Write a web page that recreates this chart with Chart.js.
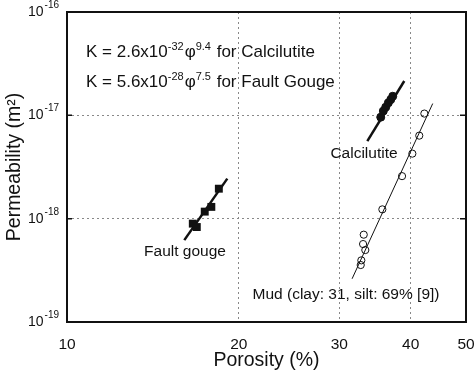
<!DOCTYPE html>
<html>
<head>
<meta charset="utf-8">
<script src="https://cdn.jsdelivr.net/npm/chart.js@4"></script>
<style>
  html, body { margin: 0; padding: 0; background: #fff; }
  #wrap { width: 474px; height: 370px; }
</style>
</head>
<body>
<div id="wrap"><canvas id="permChart" width="474" height="370"></canvas></div>
<script>
// values (porosity in %, permeability in m^2)
const calcPorosity = [35.45, 35.82, 36.17, 36.55, 36.91, 37.21];
const calcPerm = [9.6e-18, 1.10e-17, 1.20e-17, 1.32e-17, 1.42e-17, 1.53e-17];
const gougePorosity = [16.61, 16.88, 17.43, 17.90, 18.45];
const gougePerm = [8.95e-19, 8.3e-19, 1.17e-18, 1.30e-18, 1.95e-18];
const mudPorosity = [32.70, 32.78, 33.31, 33.01, 33.10, 35.68, 38.63, 40.27, 41.41, 42.27];
const mudPerm = [3.56e-19, 3.95e-19, 4.97e-19, 5.68e-19, 7.0e-19, 1.23e-18, 2.58e-18, 4.26e-18, 6.36e-18, 1.04e-17];

// fitted line end points
const calcFitPorosity = [33.58, 38.98];
const calcFitPerm = [5.64e-18, 2.15e-17];
const gougeFitPorosity = [16.05, 19.09];
const gougeFitPerm = [6.2e-19, 2.44e-18];
const mudFitPorosity = [31.58, 43.72];
const mudFitPerm = [2.62e-19, 1.30e-17];

// tick values
const xTicks = [10, 20, 30, 40, 50];
const yExponents = [-19, -18, -17, -16];

const FONT = "'Liberation Sans', Arial, sans-serif";
const INK = '#111';

const toPts = (xs, ys) => xs.map((x, i) => ({ x: x, y: ys[i] }));

// rich text lines: [text, isSuperscript]
const equations = [
  { x: 86, y: 57, parts: [['K = 2.6x10', false], ['-32', true], ['\u03c6', false], ['9.4', true], [' for Calcilutite', false]] },
  { x: 86, y: 87, parts: [['K = 5.6x10', false], ['-28', true], ['\u03c6', false], ['7.5', true], [' for Fault Gouge', false]] }
];
const labels = [
  { text: 'Calcilutite', x: 364, y: 154 },
  { text: 'Fault gouge', x: 185, y: 252 },
  { text: 'Mud (clay: 31, silt: 69% [9])', x: 346, y: 295 }
];

const decorPlugin = {
  id: 'decor',
  afterDatasetsDraw(chart) {
    const ctx = chart.ctx;
    const a = chart.chartArea;
    const ys = chart.scales.y;
    ctx.save();
    // frame
    ctx.strokeStyle = INK;
    ctx.lineWidth = 2;
    ctx.strokeRect(a.left, a.top, a.right - a.left, a.bottom - a.top);
    // inward ticks left/right
    ctx.lineWidth = 1.5;
    [-18, -17].forEach(e => {
      const py = ys.getPixelForValue(Math.pow(10, e));
      ctx.beginPath();
      ctx.moveTo(a.left, py); ctx.lineTo(a.left + 5, py);
      ctx.moveTo(a.right, py); ctx.lineTo(a.right - 6, py);
      ctx.stroke();
    });
    // y tick labels with superscripts
    ctx.fillStyle = INK;
    ctx.textBaseline = 'alphabetic';
    yExponents.forEach(e => {
      const py = ys.getPixelForValue(Math.pow(10, e));
      const sup = String(e);
      ctx.font = '10px ' + FONT;
      const sw = ctx.measureText(sup).width;
      ctx.font = '14px ' + FONT;
      const bw = ctx.measureText('10').width;
      const right = 59;
      ctx.textAlign = 'left';
      ctx.fillText('10', right - sw - bw - 1, py + 4);
      ctx.font = '10px ' + FONT;
      ctx.fillText(sup, right - sw, py - 4);
    });
    // equations
    equations.forEach(eq => {
      let cx = eq.x;
      eq.parts.forEach(([t, sup]) => {
        ctx.font = (sup ? '11px ' : '17px ') + FONT;
        ctx.fillText(t, cx, sup ? eq.y - 7 : eq.y);
        cx += ctx.measureText(t).width + (sup ? 1 : 0);
      });
    });
    // series labels
    ctx.font = '15.5px ' + FONT;
    ctx.textAlign = 'center';
    ctx.textBaseline = 'middle';
    labels.forEach(l => ctx.fillText(l.text, l.x, l.y));
    ctx.restore();
  }
};

const gridColor = keep => c => keep(c.tick.value) ? '#888' : 'rgba(0,0,0,0)';

new Chart(document.getElementById('permChart'), {
  type: 'scatter',
  data: {
    datasets: [
      { label: 'Calcilutite', data: toPts(calcPorosity, calcPerm), pointStyle: 'circle', pointRadius: 4,
        backgroundColor: INK, borderColor: INK, borderWidth: 1, order: 1 },
      { label: 'Fault gouge', data: toPts(gougePorosity, gougePerm), pointStyle: 'rect', pointRadius: 5.6,
        backgroundColor: INK, borderColor: INK, borderWidth: 0, order: 1 },
      { label: 'Mud', data: toPts(mudPorosity, mudPerm), pointStyle: 'circle', pointRadius: 3.6,
        backgroundColor: 'rgba(0,0,0,0)', borderColor: INK, borderWidth: 1, order: 1 },
      { label: 'Calcilutite fit', data: toPts(calcFitPorosity, calcFitPerm), showLine: true, pointRadius: 0,
        borderColor: INK, borderWidth: 2.5, order: 2 },
      { label: 'Fault gouge fit', data: toPts(gougeFitPorosity, gougeFitPerm), showLine: true, pointRadius: 0,
        borderColor: INK, borderWidth: 2.5, order: 2 },
      { label: 'Mud fit', data: toPts(mudFitPorosity, mudFitPerm), showLine: true, pointRadius: 0,
        borderColor: INK, borderWidth: 1, order: 2 }
    ]
  },
  options: {
    responsive: false,
    animation: false,
    layout: { padding: { top: 12, right: 0, left: 0, bottom: 0 } },
    plugins: { legend: { display: false }, tooltip: { enabled: false } },
    scales: {
      x: {
        type: 'logarithmic', min: 10, max: 50,
        afterBuildTicks: s => { s.ticks = xTicks.map(v => ({ value: v })); },
        afterFit: s => { s.height = 48; s.paddingLeft = 0; s.paddingRight = 8; },
        ticks: { color: INK, font: { family: FONT, size: 15.5 }, padding: 13, maxRotation: 0, autoSkip: false,
          callback: v => String(v) },
        grid: { color: gridColor(v => v > 10 && v < 50), lineWidth: 1, drawTicks: false },
        border: { display: false, dash: [2, 3] },
        title: { display: true, text: 'Porosity (%)', color: INK, font: { family: FONT, size: 19.5 }, padding: { top: 0, bottom: -2 } }
      },
      y: {
        type: 'logarithmic', min: 1e-19, max: 1e-16,
        afterBuildTicks: s => { s.ticks = yExponents.map(e => ({ value: Math.pow(10, e) })); },
        afterFit: s => { s.width = 67; },
        ticks: { display: false },
        grid: { color: gridColor(v => { const e = Math.round(Math.log10(v)); return e === -17 || e === -18; }),
          lineWidth: 1, drawTicks: false },
        border: { display: false, dash: [2, 3] },
        title: { display: true, text: 'Permeability (m\u00b2)', color: INK, font: { family: FONT, size: 19.5 }, padding: { top: 3 } }
      }
    }
  },
  plugins: [decorPlugin]
});
</script>
</body>
</html>
